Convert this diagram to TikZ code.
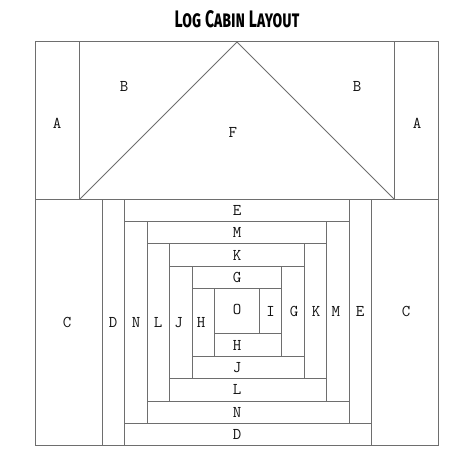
\documentclass[tikz,border=0pt]{standalone}
\usepackage{fontspec}
\newfontfamily\titlefont{Fira Sans}
\definecolor{linecol}{HTML}{6E6E6E}
\definecolor{textcol}{HTML}{111111}
\begin{document}
\begin{tikzpicture}[x=22.444bp, y=-22.444bp,
  piece/.style={draw=linecol, line width=1bp},
  lbl/.style={font=\fontsize{16.5}{16.5}\selectfont\ttfamily, text=textcol, inner sep=0pt},
  ttl/.style={font=\fontsize{24}{24}\selectfont\titlefont\bfseries, text=black, inner sep=0pt}]
\useasboundingbox (-1.5595,-1.8713) rectangle (19.5600,19.2481);
\fill[white] (-1.5595,-1.8713) rectangle (19.5600,19.2481);
% title
\node[ttl] (title) at (9.0,-1.02) {\scalebox{0.66}[1]{\textsc{Log Cabin Layout}}};
% roof section
\draw[piece] (0,0) rectangle (18,7);
\draw[piece] (0,0) rectangle (2,7);
\draw[piece] (16,0) rectangle (18,7);
\draw[piece] (2,7) -- (9,0) -- (16,7);
% lower section
\draw[piece] (0,7) rectangle (3,18);
\draw[piece] (3,7) rectangle (4,18);
\draw[piece] (4,7) rectangle (14,8);
\draw[piece] (14,7) rectangle (15,17);
\draw[piece] (4,17) rectangle (15,18);
\draw[piece] (15,7) rectangle (18,18);
\draw[piece] (4,8) rectangle (5,17);
\draw[piece] (5,8) rectangle (13,9);
\draw[piece] (13,8) rectangle (14,16);
\draw[piece] (5,16) rectangle (14,17);
\draw[piece] (5,9) rectangle (6,16);
\draw[piece] (6,9) rectangle (12,10);
\draw[piece] (12,9) rectangle (13,15);
\draw[piece] (6,15) rectangle (13,16);
\draw[piece] (6,10) rectangle (7,15);
\draw[piece] (7,10) rectangle (11,11);
\draw[piece] (11,10) rectangle (12,14);
\draw[piece] (7,14) rectangle (12,15);
\draw[piece] (7,11) rectangle (8,14);
\draw[piece] (8,11) rectangle (10,13);
\draw[piece] (10,11) rectangle (11,13);
\draw[piece] (8,13) rectangle (11,14);
% roof labels
\node[lbl] (aL) at (0.98,3.61) {A};
\node[lbl] (bL) at (3.97,2.0) {B};
\node[lbl] (f) at (8.82,4.05) {F};
\node[lbl] (bR) at (14.35,2.0) {B};
\node[lbl] (aR) at (17.02,3.61) {A};
% side labels
\node[lbl] (cL) at (1.43,12.48) {C};
\node[lbl] (dL) at (3.48,12.48) {D};
\node[lbl] (nL) at (4.5,12.48) {N};
\node[lbl] (lL) at (5.48,12.48) {L};
\node[lbl] (jL) at (6.4,12.48) {J};
\node[lbl] (hL) at (7.4,12.48) {H};
\node[lbl] (o) at (9.0,11.9) {O};
\node[lbl] (iR) at (10.5,11.99) {I};
\node[lbl] (gR) at (11.54,11.99) {G};
\node[lbl] (kR) at (12.52,11.99) {K};
\node[lbl] (mR) at (13.41,11.99) {M};
\node[lbl] (eR) at (14.48,11.99) {E};
\node[lbl] (cR) at (16.53,11.99) {C};
% row labels
\node[lbl] (eT) at (9,7.5) {E};
\node[lbl] (mT) at (9,8.5) {M};
\node[lbl] (kT) at (9,9.5) {K};
\node[lbl] (gT) at (9,10.5) {G};
\node[lbl] (hB) at (9,13.5) {H};
\node[lbl] (jB) at (9,14.5) {J};
\node[lbl] (lB) at (9,15.5) {L};
\node[lbl] (nB) at (9,16.5) {N};
\node[lbl] (dB) at (9,17.5) {D};
\end{tikzpicture}
\end{document}
